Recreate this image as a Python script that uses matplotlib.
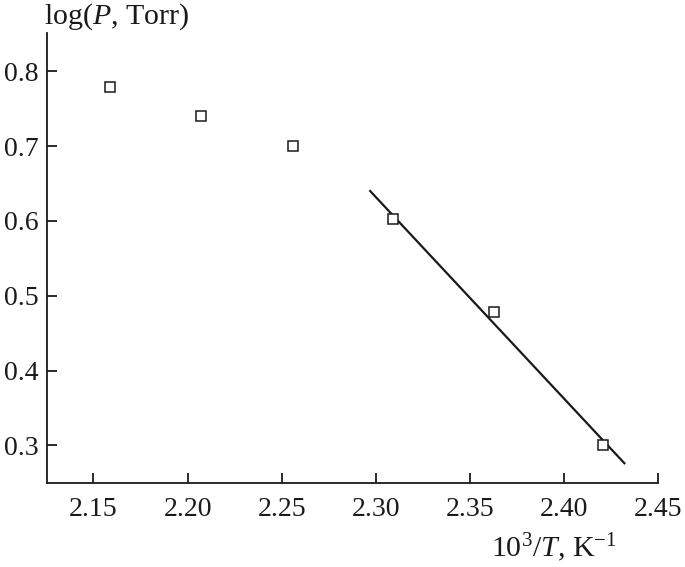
import matplotlib
matplotlib.use("Agg")
import matplotlib.pyplot as plt

# measured points: 10^3/T (K^-1) vs log(P, Torr)
inv_t = [2.159, 2.207, 2.256, 2.309, 2.363, 2.4205]
log_p = [0.779, 0.741, 0.700, 0.603, 0.478, 0.300]

# linear fit drawn over the high-1/T part
fit_x = [2.297, 2.432]
fit_y = [0.640, 0.276]

xticks = [2.15, 2.20, 2.25, 2.30, 2.35, 2.40, 2.45]
yticks = [0.3, 0.4, 0.5, 0.6, 0.7, 0.8]

plt.rcParams["font.family"] = ["Liberation Serif", "DejaVu Serif"]
plt.rcParams["mathtext.fontset"] = "custom"
plt.rcParams["mathtext.rm"] = "Liberation Serif"
plt.rcParams["mathtext.it"] = "Liberation Serif:italic"

fig = plt.figure(figsize=(6.85, 5.67), dpi=100)
ax = fig.add_axes([0.0682, 0.1487, 0.961 - 0.0682, 0.9413 - 0.1487])

ax.plot(fit_x, fit_y, color="#1a1a1a", lw=1.6, zorder=2)
ax.plot(inv_t, log_p, ls="none", marker="s", ms=7.2, mfc="white",
        mec="#1a1a1a", mew=1.1, zorder=3)

ax.set_xlim(2.1252, 2.45)
ax.set_ylim(0.25, 0.851)
ax.set_xticks(xticks)
ax.set_xticklabels([f"{v:.2f}" for v in xticks])
ax.set_yticks(yticks)
ax.set_yticklabels([f"{v:.1f}" for v in yticks])

for s in ("top", "right"):
    ax.spines[s].set_visible(False)
for s in ("left", "bottom"):
    ax.spines[s].set_linewidth(1.3)
    ax.spines[s].set_color("#1a1a1a")
ax.tick_params(direction="in", length=7, width=1.3, labelsize=20,
               colors="#1a1a1a")
ax.tick_params(axis="x", pad=10)
ax.tick_params(axis="y", pad=6)

fig.text(0.064, 0.97, r"log($P$, Torr)", fontsize=21.5, ha="left",
         va="center", color="#1a1a1a")
fig.text(0.809, 0.035, r"10$^3$/$T$, K$^{-1}$", fontsize=21.5, ha="center",
         va="center", color="#1a1a1a")

fig.savefig("out.png", dpi=100)
